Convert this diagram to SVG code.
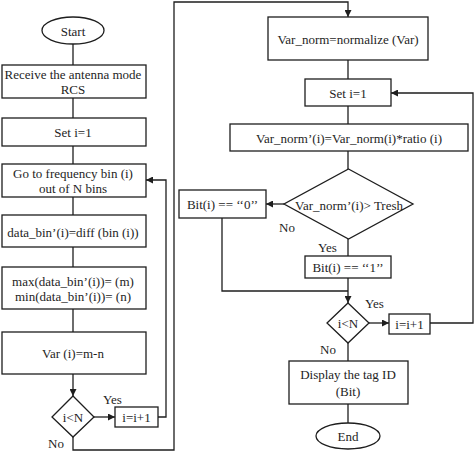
<svg xmlns="http://www.w3.org/2000/svg" width="474" height="452" viewBox="0 0 474 452">
<style>
.n{fill:#fff;stroke:#1e1e1e;stroke-width:1.3}
.c{fill:none;stroke:#1e1e1e;stroke-width:1.3}
text{font-family:"Liberation Serif","Times New Roman",serif;font-size:13px;fill:#1e1e1e;text-anchor:middle;dominant-baseline:central}
.l{text-anchor:start}
</style>
<defs>
<marker id="a" viewBox="0 0 10 10" refX="10" refY="5" markerWidth="7" markerHeight="7" markerUnits="userSpaceOnUse" orient="auto">
<path d="M0,0 L10,5 L0,10 z" fill="#1e1e1e"/>
</marker>
</defs>
<rect width="474" height="452" fill="#fff"/>
<g id="connectors">
<line class="c" x1="73" y1="44" x2="73" y2="65"/>
<line class="c" x1="73" y1="98" x2="73" y2="118"/>
<line class="c" x1="73" y1="146" x2="73" y2="164"/>
<line class="c" x1="73" y1="197" x2="73" y2="215"/>
<line class="c" x1="73" y1="247" x2="73" y2="267"/>
<line class="c" x1="73" y1="309" x2="73" y2="332"/>
<line class="c" x1="73" y1="374" x2="73" y2="396" marker-end="url(#a)"/>
<line class="c" x1="94" y1="417" x2="115" y2="417" marker-end="url(#a)"/>
<polyline class="c" points="158,417 166,417 166,180 146,180" marker-end="url(#a)"/>
<polyline class="c" points="73,437 73,450 174,450 174,2 348,2 348,17" marker-end="url(#a)"/>
<line class="c" x1="348" y1="60" x2="348" y2="79"/>
<line class="c" x1="348" y1="106" x2="348" y2="124"/>
<line class="c" x1="348" y1="151" x2="348" y2="169"/>
<line class="c" x1="284" y1="204" x2="266" y2="204" marker-end="url(#a)"/>
<line class="c" x1="348" y1="239" x2="348" y2="256"/>
<polyline class="c" points="222,218 222,291 348,291"/>
<line class="c" x1="348" y1="278" x2="348" y2="303" marker-end="url(#a)"/>
<line class="c" x1="369" y1="323" x2="389" y2="323" marker-end="url(#a)"/>
<polyline class="c" points="430,323 473,323 473,93 391,93" marker-end="url(#a)"/>
<line class="c" x1="348" y1="343" x2="348" y2="361"/>
<line class="c" x1="348" y1="404" x2="348" y2="423"/>
<text x="103" y="399" class="l">Yes</text>
<text x="48" y="443" class="l">No</text>
<text x="279" y="227" class="l">No</text>
<text x="318" y="247" class="l">Yes</text>
<text x="365" y="303" class="l">Yes</text>
<text x="320" y="349" class="l">No</text>
</g>
<g id="start"><ellipse class="n" cx="73" cy="30.5" rx="31" ry="13.5"/><text x="73" y="31">Start</text></g>
<g id="receive"><rect class="n" x="2" y="65" width="144" height="33"/><text x="73" y="74">Receive the antenna mode</text><text x="73" y="89">RCS</text></g>
<g id="set1"><rect class="n" x="2" y="118" width="144" height="28"/><text x="73" y="132">Set i=1</text></g>
<g id="gotobin"><rect class="n" x="2" y="164" width="144" height="33"/><text x="73" y="173">Go to frequency bin (i)</text><text x="73" y="188">out of N bins</text></g>
<g id="databin"><rect class="n" x="2" y="215" width="144" height="32"/><text x="73" y="232">data_bin’(i)=diff (bin (i))</text></g>
<g id="maxmin"><rect class="n" x="2" y="267" width="144" height="42"/><text x="73" y="281">max(data_bin’(i))= (m)</text><text x="73" y="296">min(data_bin’(i))= (n)</text></g>
<g id="var"><rect class="n" x="2" y="332" width="144" height="42"/><text x="73" y="353">Var (i)=m-n</text></g>
<g id="dec1"><polygon class="n" points="73,396 94,417 73,437 52,417"/><text x="73" y="417">i&lt;N</text></g>
<g id="inc1"><rect class="n" x="115" y="407" width="43" height="20"/><text x="136.5" y="417">i=i+1</text></g>
<g id="varnorm"><rect class="n" x="268" y="17" width="160" height="43"/><text x="348" y="39">Var_norm=normalize (Var)</text></g>
<g id="set2"><rect class="n" x="305" y="79" width="86" height="27"/><text x="348" y="93">Set i=1</text></g>
<g id="ratio"><rect class="n" x="230" y="124" width="238" height="27"/><text x="349" y="138">Var_norm’(i)=Var_norm(i)*ratio (i)</text></g>
<g id="dec2"><polygon class="n" points="348.5,169 413,204 348.5,239 284,204"/><text x="349" y="205">Var_norm’(i)&gt; Tresh</text></g>
<g id="bit0"><rect class="n" x="179" y="190" width="87" height="28"/><text x="222.5" y="204">Bit(i) == ‘‘0’’</text></g>
<g id="bit1"><rect class="n" x="305" y="256" width="86" height="22"/><text x="348" y="267">Bit(i) == ‘‘1’’</text></g>
<g id="dec3"><polygon class="n" points="348,303 369,323 348,343 327,323"/><text x="348" y="323">i&lt;N</text></g>
<g id="inc2"><rect class="n" x="389" y="314" width="41" height="20"/><text x="409.5" y="324">i=i+1</text></g>
<g id="display"><rect class="n" x="289" y="361" width="119" height="43"/><text x="348" y="374">Display the tag ID</text><text x="348" y="391">(Bit)</text></g>
<g id="end"><ellipse class="n" cx="348" cy="436" rx="32" ry="13"/><text x="348" y="436">End</text></g>
</svg>
